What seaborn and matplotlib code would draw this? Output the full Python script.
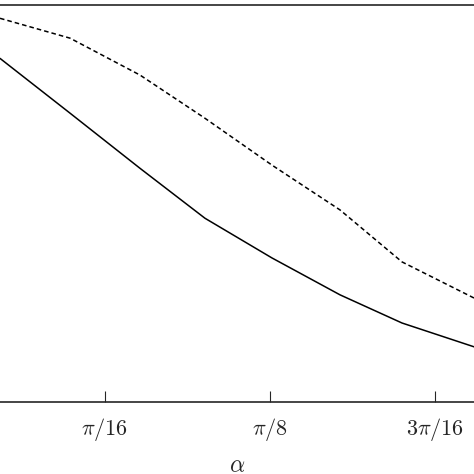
import numpy as np
import pandas as pd
import matplotlib
matplotlib.use('Agg')
import matplotlib.pyplot as plt
import seaborn as sns

sns.set_style('ticks')
plt.rcParams['mathtext.fontset'] = 'cm'
plt.rcParams['font.family'] = ['DejaVu Serif']

# values (alpha in radians, y in relative units)
alpha = [0.0714, 0.1547, 0.2380, 0.3154, 0.3951, 0.4761, 0.5499, 0.6356]
solid = [0.866, 0.728, 0.589, 0.463, 0.363, 0.270, 0.199, 0.139]
dashed = [0.967, 0.917, 0.824, 0.715, 0.597, 0.484, 0.353, 0.262]

df = pd.DataFrame({'alpha': alpha, 'solid': solid, 'dashed': dashed})

fig = plt.figure(figsize=(4.74, 4.74), dpi=100)
ax = fig.add_axes([0.0, 0.152, 1.0, 0.837])
sns.lineplot(data=df, x='alpha', y='solid', ax=ax, color='black', lw=1.1)
sns.lineplot(data=df, x='alpha', y='dashed', ax=ax, color='black', lw=1.1, linestyle=(0, (3, 2)))

ax.set_xlim(alpha[0], alpha[-1])
ax.set_ylim(0, 1)
ax.set_xticks([np.pi / 16, np.pi / 8, 3 * np.pi / 16])
ax.set_xticklabels([r'$\pi/16$', r'$\pi/8$', r'$3\pi/16$'], fontsize=16)
ax.set_yticks([])
ax.tick_params(axis='x', direction='in', length=8, pad=10)
ax.set_xlabel(r'$\alpha$', fontsize=17, labelpad=8)
ax.set_ylabel('')
for s in ax.spines.values():
    s.set_linewidth(1.2)
ax.spines['left'].set_visible(False)
ax.spines['right'].set_visible(False)

fig.savefig('out.png', dpi=100)
